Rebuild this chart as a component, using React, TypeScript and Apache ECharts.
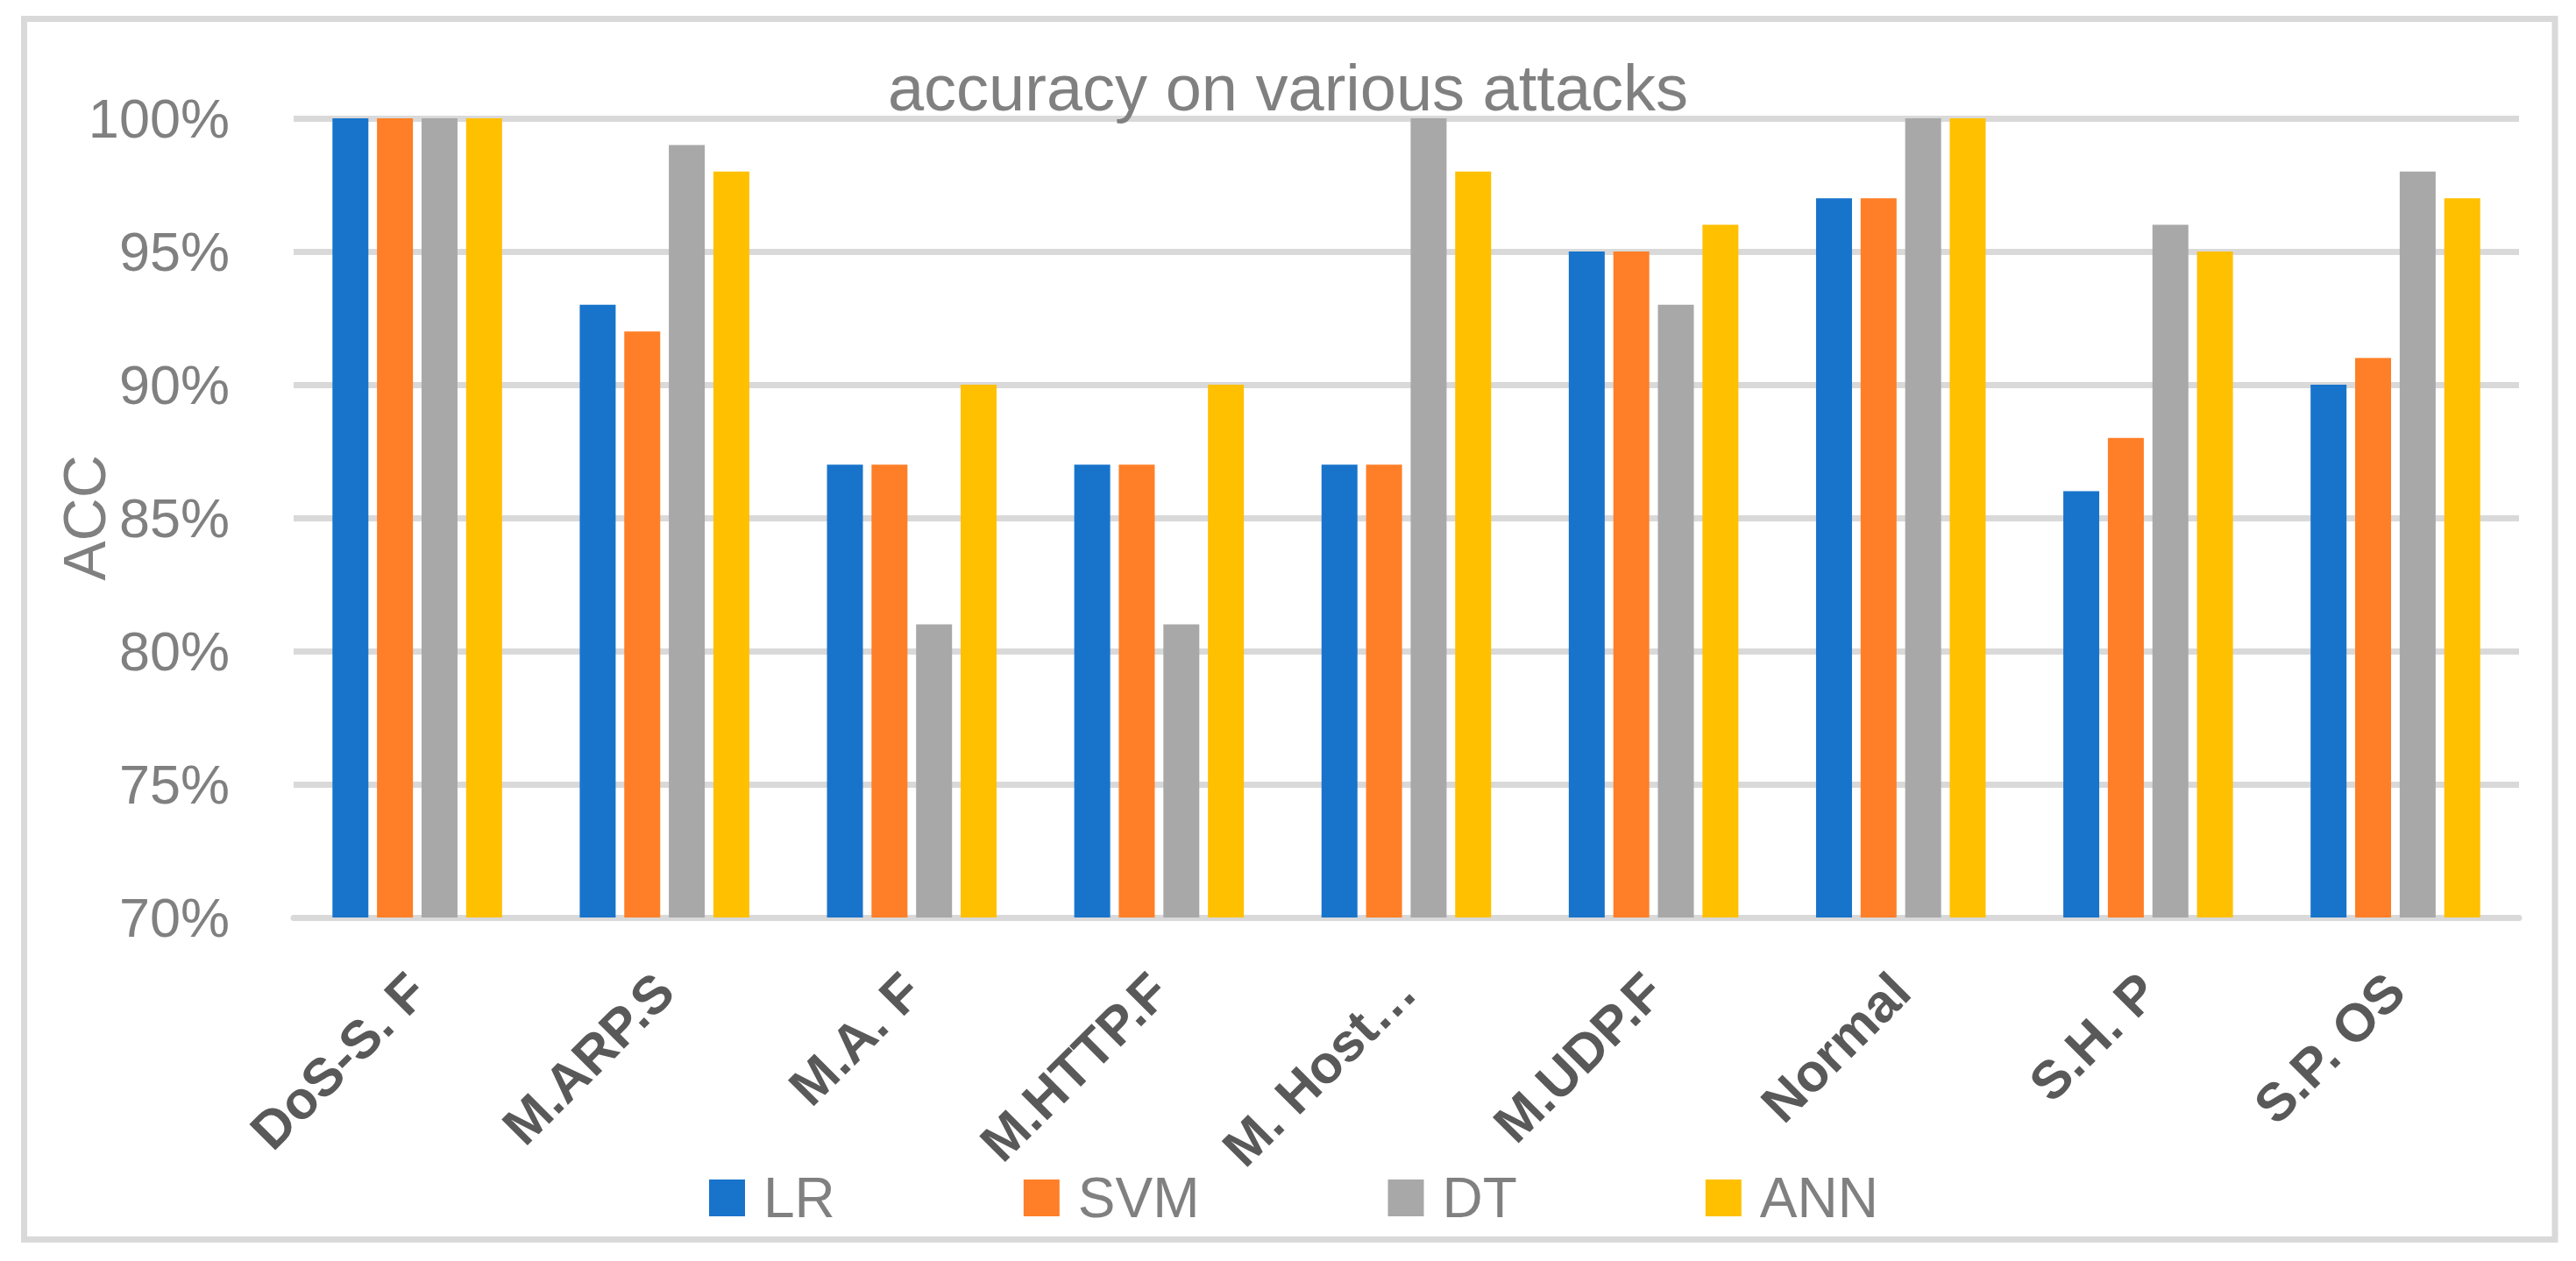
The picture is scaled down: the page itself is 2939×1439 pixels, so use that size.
import React, { useEffect, useRef } from "react";
import * as echarts from "echarts";

const categories = ["DoS-S. F", "M.ARP.S", "M.A. F", "M.HTTP.F", "M. Host…", "M.UDP.F", "Normal", "S.H. P", "S.P. OS"];
const seriesNames = ["LR", "SVM", "DT", "ANN"];
const lrValues = [100, 93, 87, 87, 87, 95, 97, 86, 90];
const svmValues = [100, 92, 87, 87, 87, 95, 97, 88, 91];
const dtValues = [100, 99, 81, 81, 100, 93, 100, 96, 98];
const annValues = [100, 98, 90, 90, 98, 96, 100, 95, 97];
const colors = ["#1874CB", "#FE7F27", "#A8A8A8", "#FFC000"];
const yTicks = { min: 70, max: 100, interval: 5 };

const FONT = "'Liberation Sans', Arial, sans-serif";

export default function App() {
  const ref = useRef<HTMLDivElement>(null);
  useEffect(() => {
    if (!ref.current) return;
    const chart = echarts.init(ref.current, undefined, { renderer: "svg" });
    const values = [lrValues, svmValues, dtValues, annValues];
    chart.setOption({
      animation: false,
      backgroundColor: "#ffffff",
      textStyle: { fontFamily: FONT },
      title: {
        text: "accuracy on various attacks",
        left: "center",
        top: 63,
        padding: 0,
        textStyle: { fontFamily: FONT, fontSize: 74, fontWeight: "normal", color: "#808080" },
      },
      legend: {
        data: seriesNames,
        left: 809,
        top: 1335,
        padding: 0,
        icon: "rect",
        itemWidth: 41,
        itemHeight: 42,
        itemGap: 215,
        textStyle: { fontFamily: FONT, fontSize: 64, color: "#808080", padding: [0, 0, 0, 16] },
      },
      grid: { left: 335, right: 65, top: 135, bottom: 392, containLabel: false },
      graphic: [
        {
          type: "rect",
          shape: { x: 27.5, y: 21.5, width: 2887.5, height: 1393 },
          style: { fill: "none", stroke: "#D9D9D9", lineWidth: 7 },
          silent: true,
          z: -1,
        },
      ],
      xAxis: {
        type: "category",
        data: categories,
        axisLine: { show: true, lineStyle: { color: "#D9D9D9", width: 7 } },
        axisTick: { show: false },
        axisLabel: {
          interval: 0,
          rotate: 45,
          margin: 74,
          fontFamily: FONT,
          fontSize: 61,
          fontWeight: "bold",
          color: "#595959",
        },
      },
      yAxis: {
        type: "value",
        min: yTicks.min,
        max: yTicks.max,
        interval: yTicks.interval,
        name: "ACC",
        nameLocation: "middle",
        nameGap: 205,
        nameMoveOverlap: false,
        nameTextStyle: { fontFamily: FONT, fontSize: 68, color: "#808080" },
        axisLine: { show: false },
        axisTick: { show: false },
        axisLabel: {
          formatter: "{value}%",
          margin: 73,
          fontFamily: FONT,
          fontSize: 63,
          color: "#808080",
        },
        splitLine: { show: true, lineStyle: { color: "#D9D9D9", width: 7 } },
      },
      series: seriesNames.map((name, i) => ({
        name,
        type: "bar",
        data: values[i],
        barWidth: 41,
        barGap: "24%",
        itemStyle: { color: colors[i] },
      })),
    });
    return () => chart.dispose();
  }, []);
  return (
    <div
      ref={ref}
      style={{ position: "absolute", left: 0, top: 0, width: 2939, height: 1439, background: "#fff" }}
    />
  );
}
